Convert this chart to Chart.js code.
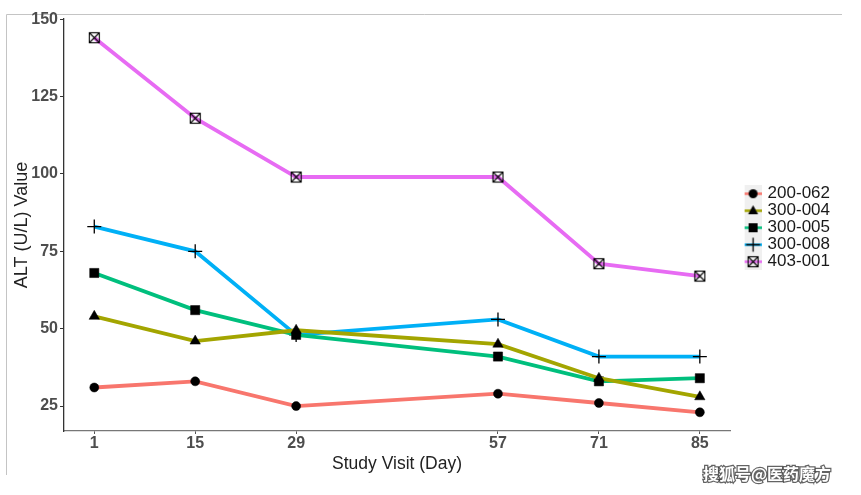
<!DOCTYPE html>
<html><head><meta charset="utf-8">
<script src="https://cdn.jsdelivr.net/npm/chart.js@4"></script>
<style>html,body{margin:0;padding:0;background:#fff}#wrap{width:861px;height:495px}</style>
</head><body><div id="wrap"><canvas id="c" width="861" height="495"></canvas></div>
<script>
const days = [1, 15, 29, 57, 71, 85];
const subjects = ['200-062', '300-004', '300-005', '300-008', '403-001'];
const alt200062 = [31, 33, 25, 29, 26, 23];
const alt300004 = [54, 46, 49.5, 45, 34, 28];
const alt300005 = [68, 56, 48, 41, 33, 34];
const alt300008 = [83, 75, 48, 53, 41, 41];
const alt403001 = [144, 118, 99, 99, 71, 67];
const yTicks = [25, 50, 75, 100, 125, 150];
const xTicks = [1, 15, 29, 57, 71, 85];

const seriesValues = [alt200062, alt300004, alt300005, alt300008, alt403001];
const colors = ['#F8766D', '#A3A500', '#00BF7D', '#00B0F6', '#E76BF3'];
const shapes = ['circle', 'triangle', 'rect', 'cross', 'boxX'];

function drawMarker(ctx, shape, x, y) {
  ctx.save();
  ctx.fillStyle = '#000'; ctx.strokeStyle = '#000';
  if (shape === 'circle') { ctx.beginPath(); ctx.arc(x, y, 4.5, 0, Math.PI * 2); ctx.fill(); }
  else if (shape === 'triangle') { ctx.beginPath(); ctx.moveTo(x, y - 5.5); ctx.lineTo(x + 5, y + 3.5); ctx.lineTo(x - 5, y + 3.5); ctx.closePath(); ctx.fill(); }
  else if (shape === 'rect') { ctx.fillRect(x - 4.5, y - 4.5, 9, 9); }
  else if (shape === 'cross') { ctx.lineWidth = 1.3; ctx.beginPath(); ctx.moveTo(x - 7, y); ctx.lineTo(x + 7, y); ctx.moveTo(x, y - 7); ctx.lineTo(x, y + 7); ctx.stroke(); }
  else if (shape === 'boxX') { ctx.lineWidth = 1.1; ctx.strokeRect(x - 5, y - 5, 10, 10); ctx.beginPath(); ctx.moveTo(x - 5, y - 5); ctx.lineTo(x + 5, y + 5); ctx.moveTo(x + 5, y - 5); ctx.lineTo(x - 5, y + 5); ctx.stroke(); }
  ctx.restore();
}

const boxXCanvas = document.createElement('canvas');
boxXCanvas.width = 13; boxXCanvas.height = 13;
drawMarker(boxXCanvas.getContext('2d'), 'boxX', 6.5, 6.5);

// legend key: grey square with coloured line and black marker, offset to the right inside a wider canvas
const legendIcons = shapes.map((s, i) => {
  const cv = document.createElement('canvas');
  cv.width = 34; cv.height = 17;
  const c = cv.getContext('2d');
  const ox = 17;
  c.fillStyle = '#F0F0F0'; c.fillRect(ox, 0, 17, 17);
  c.strokeStyle = colors[i]; c.lineWidth = 2.5;
  c.beginPath(); c.moveTo(ox, 8.5); c.lineTo(ox + 17, 8.5); c.stroke();
  drawMarker(c, s, ox + 8.5, 8.5);
  return cv;
});

const pointStyles = ['circle', 'triangle', 'rect', 'cross', boxXCanvas];
const pointRadii = [4.5, 6, 6.5, 7, 6];

const datasets = subjects.map((name, i) => ({
  label: name,
  data: days.map((d, j) => ({ x: d, y: seriesValues[i][j] })),
  borderColor: colors[i],
  backgroundColor: colors[i],
  borderWidth: 3.8,
  tension: 0,
  pointStyle: pointStyles[i],
  pointRadius: pointRadii[i],
  pointHoverRadius: pointRadii[i],
  pointBackgroundColor: '#000',
  pointBorderColor: '#000',
  pointBorderWidth: i === 3 ? 1.3 : 0.5,
  order: i
}));

const framePlugin = {
  id: 'frame',
  beforeDraw(chart) {
    const ctx = chart.ctx;
    ctx.save();
    ctx.strokeStyle = '#C4C4C4'; ctx.lineWidth = 1;
    ctx.beginPath();
    ctx.moveTo(6.5, 475); ctx.lineTo(6.5, 14.5); ctx.lineTo(842, 14.5);
    ctx.stroke();
    ctx.restore();
  },
  afterDraw(chart) {
    const ctx = chart.ctx;
    ctx.save();
    ctx.font = 'bold 16px "Noto Sans CJK SC"';
    ctx.textBaseline = 'middle';
    ctx.lineWidth = 2.5; ctx.strokeStyle = 'rgba(60,60,60,0.8)';
    ctx.strokeText('搜狐号@医药魔方', 703, 474);
    ctx.fillStyle = '#fff';
    ctx.fillText('搜狐号@医药魔方', 703, 474);
    ctx.restore();
  }
};

const baseFont = '"Liberation Sans", Arial, sans-serif';

new Chart(document.getElementById('c'), {
  type: 'line',
  data: { datasets },
  plugins: [framePlugin],
  options: {
    responsive: false,
    animation: false,
    devicePixelRatio: 1,
    layout: { padding: { top: 19, right: 21, bottom: 0, left: 0 } },
    plugins: {
      tooltip: { enabled: false },
      legend: {
        position: 'right',
        align: 'start',
        title: { display: true, text: ' ', font: { size: 1 }, padding: { top: 165, bottom: 0 } },
        labels: {
          usePointStyle: true,
          pointStyleWidth: 29,
          boxWidth: 17, boxHeight: 17,
          padding: 0,
          color: '#1a1a1a',
          font: { family: baseFont, size: 17 },
          generateLabels(chart) {
            return chart.data.datasets.map((ds, i) => ({
              text: ds.label, pointStyle: legendIcons[i], fillStyle: 'transparent',
              strokeStyle: 'transparent', lineWidth: 0, hidden: false, datasetIndex: i, fontColor: '#1a1a1a'
            }));
          }
        }
      }
    },
    scales: {
      x: {
        type: 'linear', min: -3.2, max: 89.2,
        afterBuildTicks(s) { s.ticks = xTicks.map(v => ({ value: v })); },
        afterFit(s) { s.height = 64; },
        grid: { display: true, drawOnChartArea: false, drawTicks: true, tickLength: 3, color: '#555' },
        border: { display: true, color: '#777', width: 1.3 },
        ticks: { padding: 0, color: '#4D4D4D', font: { family: baseFont, size: 16, weight: 'bold' }, maxRotation: 0, autoSkip: false, callback: v => String(v) },
        title: { display: true, text: 'Study Visit (Day)', color: '#222', font: { family: baseFont, size: 17.5 }, padding: { top: 0, bottom: 20 } }
      },
      y: {
        type: 'linear', min: 16.95, max: 150.05,
        afterBuildTicks(s) { s.ticks = yTicks.map(v => ({ value: v })); },
        afterFit(s) { s.width = 64; },
        grid: { display: true, drawOnChartArea: false, drawTicks: true, tickLength: 4, color: '#333' },
        border: { display: true, color: '#333', width: 1.3 },
        ticks: { padding: 2, color: '#4D4D4D', font: { family: baseFont, size: 16, weight: 'bold' }, callback: v => String(v) },
        title: { display: true, text: 'ALT (U/L) Value', color: '#222', font: { family: baseFont, size: 18 }, padding: { top: 11, bottom: 0 } }
      }
    }
  }
});
</script></body></html>
